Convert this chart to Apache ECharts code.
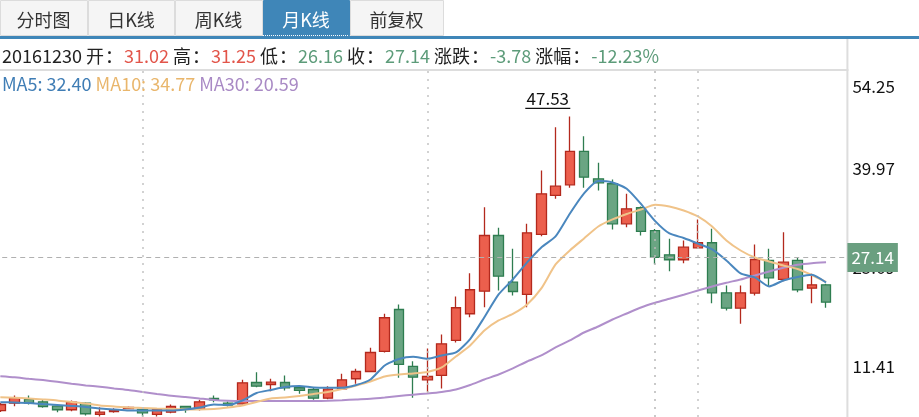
<!DOCTYPE html>
<html><head><meta charset="utf-8">
<script src="https://cdn.jsdelivr.net/npm/echarts@6/dist/echarts.min.js"></script>
<style>html,body{margin:0;padding:0;background:#fff;overflow:hidden}#c{width:919px;height:417px}</style>
</head><body><div id="c"></div>
<script>
// ---------- data ----------
const categories = [
 '2013-02','2013-03','2013-04','2013-05','2013-06','2013-07','2013-08','2013-09','2013-10','2013-11','2013-12',
 '2014-01','2014-02','2014-03','2014-04','2014-05','2014-06','2014-07','2014-08','2014-09','2014-10','2014-11','2014-12',
 '2015-01','2015-02','2015-03','2015-04','2015-05','2015-06','2015-07','2015-08','2015-09','2015-10','2015-11','2015-12',
 '2016-01','2016-02','2016-03','2016-04','2016-05','2016-06','2016-07','2016-08','2016-09','2016-10','2016-11','2016-12',
 '2017-01','2017-02','2017-03','2017-04','2017-05','2017-06','2017-07','2017-08','2017-09','2017-10','2017-11','2017-12'
];
// [open, close, low, high]
const candles = [
 [5.00,5.88,4.80,6.10],[6.07,6.85,5.64,7.18],[6.61,6.07,5.88,7.18],[6.27,5.59,5.40,6.61],[5.64,5.12,4.77,5.70],
 [5.12,6.21,4.91,6.46],[6.07,4.54,4.29,6.21],[4.44,4.77,4.15,5.49],[4.87,5.12,4.68,5.35],[5.30,5.45,5.20,5.60],
 [5.16,4.68,4.15,5.35],[4.44,5.12,4.15,5.35],[4.77,5.59,4.63,5.88],[5.59,5.16,4.68,5.69],[5.26,6.27,5.01,6.56],
 [6.75,6.56,6.21,7.18],[6.07,5.81,5.60,6.30],[5.98,9.02,5.84,9.45],[9.06,8.53,8.38,10.55],[8.77,9.11,7.81,9.60],
 [9.06,8.30,7.91,10.08],[8.30,7.91,7.43,8.63],[8.05,6.79,6.56,8.25],[6.79,8.09,6.65,8.53],[8.15,9.45,8.05,10.32],
 [9.60,10.65,8.88,11.04],[10.65,13.40,10.55,14.08],[13.55,18.42,13.40,19.00],[19.62,11.67,9.74,20.34],[11.38,9.83,6.85,12.14],
 [9.45,9.93,7.62,13.98],[10.08,14.66,8.20,16.01],[15.14,19.87,14.85,21.50],[19.00,22.47,18.51,24.87],[22.27,30.32,19.95,34.41],
 [30.32,24.44,22.37,31.43],[23.57,22.22,21.64,28.40],[21.79,30.71,19.95,32.01],[30.47,36.35,30.20,39.72],[36.11,37.45,35.63,45.98],
 [37.65,42.47,37.22,47.53],[42.47,38.75,37.22,44.68],[38.52,37.94,36.83,40.83],[37.80,32.01,31.19,38.42],[32.01,34.18,31.52,36.35],
 [34.33,30.92,30.32,34.50],[31.02,27.14,26.16,31.25],[27.53,26.81,25.16,29.84],[26.81,28.63,26.32,29.60],[28.54,29.27,28.40,32.64],
 [29.27,22.03,20.53,31.29],[22.03,19.81,19.48,23.09],[19.81,22.03,17.55,23.09],[21.98,26.85,21.64,29.02],[26.71,24.20,22.95,28.40],
 [23.96,26.46,23.70,30.80],[26.71,22.47,22.12,27.10],[22.70,23.19,20.53,24.78],[23.19,20.68,19.87,23.35]
];
const ma5 = [
 6.21,6.17,6.10,5.95,5.81,5.67,5.52,5.30,5.16,5.01,
 5.01,5.01,5.01,5.16,5.45,5.88,5.81,6.46,7.55,7.98,
 8.41,8.56,8.34,8.30,8.30,8.70,9.50,11.52,12.46,12.78,
 12.49,12.97,13.40,15.35,18.50,21.79,23.96,26.42,28.59,30.18,
 33.46,36.40,38.20,37.99,37.07,34.88,32.40,30.61,29.96,29.16,
 28.30,26.71,24.83,24.25,22.95,23.81,24.32,24.64,23.52
];
const ma10 = [
 6.94,6.87,6.75,6.61,6.46,6.24,6.03,5.74,5.59,5.45,
 5.38,5.30,5.23,5.16,5.16,5.23,5.45,5.74,6.24,6.75,
 6.89,7.11,7.40,7.69,8.12,8.63,9.21,9.93,10.22,10.37,
 10.58,11.23,12.82,14.41,16.58,18.03,18.97,20.34,22.66,26.13,
 28.15,29.89,31.62,32.64,33.43,34.08,34.77,34.52,33.94,33.07,
 31.62,29.60,28.15,27.14,26.56,25.98,25.48,24.61,23.60
];
const ma30 = [
 9.97,9.82,9.60,9.41,9.16,8.89,8.64,8.44,8.20,7.98,
 7.68,7.40,7.15,6.97,6.75,6.53,6.42,6.39,6.39,6.39,
 6.39,6.39,6.39,6.42,6.50,6.61,6.71,6.89,7.11,7.30,
 7.47,7.69,8.05,8.70,9.50,10.22,11.09,12.10,12.97,14.13,
 15.14,16.29,17.16,18.17,19.04,19.91,20.59,21.17,21.75,22.37,
 22.95,23.48,23.96,24.54,25.12,25.65,26.08,26.32,26.46
];
const yTickLabels = [11.41, 25.69, 39.97, 54.25];
const dividerMonths = ['2013-12','2015-08','2017-03'];
const hoverMonth = '2016-12';
const hoverDate = '20161230';
const tabs = ['分时图','日K线','周K线','月K线','前复权'];
const activeTab = 3;

// ---------- build ----------
const FONT = '"Noto Sans CJK SC","Noto Sans",sans-serif';
const f2 = v => v.toFixed(2);
const yStep = yTickLabels[1] - yTickLabels[0];
const yMax = yTickLabels[yTickLabels.length - 1];
const yMin = +(yTickLabels[0] - yStep).toFixed(2);

const hIdx = categories.indexOf(hoverMonth);
const hc = candles[hIdx];
const prevClose = candles[hIdx - 1][1];
const chg = hc[1] - prevClose;
const pct = chg / prevClose * 100;
const tone = v => (v >= prevClose ? 'r' : 'g');
const lab = s => '{k|' + s + '}{c|：}';
const infoText =
  '{k|' + hoverDate + ' }' + lab('开') + '{' + tone(hc[0]) + '|' + f2(hc[0]) + '}' +
  '{k| }' + lab('高') + '{' + tone(hc[3]) + '|' + f2(hc[3]) + '}' +
  '{k| }' + lab('低') + '{' + tone(hc[2]) + '|' + f2(hc[2]) + '}' +
  '{k| }' + lab('收') + '{' + tone(hc[1]) + '|' + f2(hc[1]) + '}' +
  '{k| }' + lab('涨跌') + '{' + (chg >= 0 ? 'r' : 'g') + '|' + f2(chg) + '}' +
  '{k| }' + lab('涨幅') + '{' + (chg >= 0 ? 'r' : 'g') + '|' + f2(pct) + '%}';
const maText = '{b|MA5: ' + f2(ma5[hIdx]) + '} {o|MA10: ' + f2(ma10[hIdx]) + '} {p|MA30: ' + f2(ma30[hIdx]) + '}';

const C_UP = '#ec5f4d', C_UP_B = '#b3291d', C_DN = '#6aa583', C_DN_B = '#2e7d50';
const C_MA5 = '#4a87be', C_MA10 = '#f0c389', C_MA30 = '#b08fcb';
const BLUE = '#3f86b8';
const FS = 18;

const tabBounds = [[0,87],[88,174],[175,262],[263,349],[350,443]];
const graphic = [];
tabs.forEach((t, i) => {
  const [x0, x1] = tabBounds[i];
  graphic.push({type:'rect', silent:true, shape:{x:x0+0.5, y:0.5, width:x1-x0, height:35},
    style:{fill: i===activeTab ? BLUE : '#f5f5f5', stroke: i===activeTab ? BLUE : '#dcdcdc', lineWidth:1}});
  graphic.push({type:'text', silent:true, x:(x0+x1)/2, y:20,
    style:{text:t, fill: i===activeTab ? '#fff' : '#333', font:FS + 'px ' + FONT, align:'center', verticalAlign:'middle'}});
});
graphic.push({type:'line', silent:true, shape:{x1:263, y1:35.5, x2:349, y2:35.5}, style:{stroke:'#fff', lineWidth:1, lineDash:[1,1]}});
graphic.push({type:'rect', silent:true, shape:{x:0, y:36, width:919, height:3}, style:{fill:BLUE}});
graphic.push({type:'rect', silent:true, shape:{x:846.4, y:39, width:2, height:32}, style:{fill:'#dddddd'}});

const rs = c => ({color: c, fontSize: FS, fontFamily: FONT});
const option = {
  animation: false,
  backgroundColor: '#fff',
  textStyle: {fontFamily: FONT},
  graphic: graphic,
  title: [
    {left: 2, top: 46, padding: 0, text: infoText,
     textStyle: {fontSize: FS, lineHeight: 20, fontWeight: 'normal', fontFamily: FONT,
       rich: {k: rs('#222'), c: Object.assign(rs('#222'), {padding: [0, 1, 0, 1]}), r: rs('#e2554a'), g: rs('#5c9b79')}}},
    {left: 2, top: 74, padding: 0, text: maText,
     textStyle: {fontSize: FS, lineHeight: 20, fontWeight: 'normal', fontFamily: FONT,
       rich: {b: rs('#3f7db5'), o: rs('#e9b66c'), p: rs('#a98ac5')}}}
  ],
  grid: {left: -6.8, right: 71.6, top: 70, bottom: -48, outerBoundsMode: 'none', containLabel: false,
         show: true, borderColor: '#dddddd', borderWidth: 2, backgroundColor: 'transparent'},
  xAxis: {type: 'category', data: categories.concat(['']), boundaryGap: true, show: false},
  yAxis: {
    type: 'value', position: 'right', min: yMin, max: yMax, interval: yStep,
    splitLine: {show: false}, axisLine: {show: false}, axisTick: {show: false},
    axisLabel: {margin: 5, color: '#111', fontSize: 17, fontFamily: FONT,
      formatter: v => (Math.abs(v - yMax) < 1e-6 ? '{t|' + f2(v) + '}' : f2(v)),
      rich: {t: {padding: [34, 0, 0, 0], fontSize: 17, color: '#111', fontFamily: FONT}}}
  },
  series: [
    {
      type: 'candlestick', name: 'K', data: candles, barWidth: 10, silent: true, z: 2,
      itemStyle: {color: C_UP, color0: C_DN, borderColor: C_UP_B, borderColor0: C_DN_B, borderWidth: 1.3},
      markPoint: {
        symbol: 'rect', symbolSize: [45, 1.3], symbolOffset: [-22, -8], silent: true, animation: false,
        itemStyle: {color: '#111'},
        label: {show: true, position: 'top', distance: 1, color: '#111', fontSize: 17, fontFamily: FONT, formatter: p => f2(p.value)},
        data: [{type: 'max', valueDim: 'highest'}]
      },
      markLine: {
        symbol: ['none', 'none'], silent: true, animation: false, label: {show: false},
        data: dividerMonths.map(m => ({xAxis: m, lineStyle: {type: [2, 6], color: '#c4c4c4', width: 1.5}}))
          .concat([
            {xAxis: hoverMonth, lineStyle: {type: [2, 6], color: '#b8b8b8', width: 1.5}},
            {yAxis: hc[1], lineStyle: {type: [5, 4], color: '#b0b0b0', width: 1.2},
             label: {show: true, position: 'end', distance: 0, formatter: p => f2(p.value), color: '#fff',
               backgroundColor: '#6a9f80', padding: [6, 4, 6, 4], fontSize: 17, lineHeight: 17, fontFamily: FONT}}
          ])
      }
    },
    {type: 'line', name: 'MA30', data: ma30, symbol: 'none', smooth: 0.2, silent: true, z: 3, lineStyle: {color: C_MA30, width: 2}},
    {type: 'line', name: 'MA10', data: ma10, symbol: 'none', smooth: 0.2, silent: true, z: 3, lineStyle: {color: C_MA10, width: 2}},
    {type: 'line', name: 'MA5', data: ma5, symbol: 'none', smooth: 0.2, silent: true, z: 4, lineStyle: {color: C_MA5, width: 2}}
  ]
};
const chart = echarts.init(document.getElementById('c'));
chart.setOption(option);
</script>
</body></html>
